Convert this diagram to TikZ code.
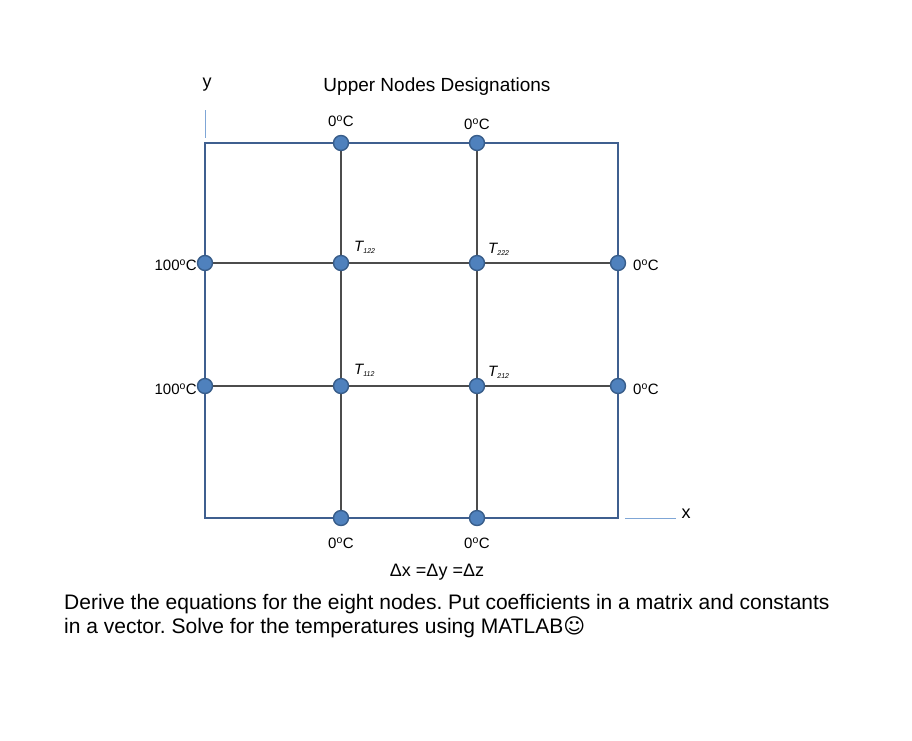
\documentclass[tikz,border=0pt]{standalone}
\usepackage{fontspec}
\setmainfont{Liberation Sans}
\newfontfamily\dejavu{DejaVu Sans}
\frenchspacing
\definecolor{bord}{HTML}{3F5F8F}
\definecolor{dotfill}{HTML}{4F81BD}
\definecolor{dotline}{HTML}{385D8A}
\definecolor{axc}{HTML}{7FA6D6}
\tikzset{dot/.style={circle,fill=dotfill,draw=dotline,line width=1.4pt,minimum size=15pt,inner sep=0pt},
lbl/.style={font=\fontsize{15}{18}\selectfont,inner sep=1pt},
tl/.style={font=\fontsize{15}{18}\selectfont\itshape,inner sep=1pt}}
\begin{document}
\begin{tikzpicture}[x=1pt,y=-1pt]
\useasboundingbox (0,0) rectangle (912,740);
\coordinate (A) at (205,143); \coordinate (B) at (618,143);
\coordinate (C) at (618,518); \coordinate (D) at (205,518);
\coordinate (t1) at (341,143); \coordinate (t2) at (477,143);
\coordinate (b1) at (341,518); \coordinate (b2) at (477,518);
\coordinate (l1) at (205,263); \coordinate (l2) at (205,386);
\coordinate (r1) at (618,263); \coordinate (r2) at (618,386);
\coordinate (n122) at (341,263); \coordinate (n222) at (477,263);
\coordinate (n112) at (341,386); \coordinate (n212) at (477,386);
\draw[black!70,line width=1.2pt] (t1)--(b1) (t2)--(b2) (l1)--(r1) (l2)--(r2);
\draw[bord,line width=2.2pt] (A)--(B)--(C)--(D)--cycle;
\foreach \n in {t1,t2,b1,b2,l1,l2,r1,r2,n122,n222,n112,n212}{\node[dot] (d\n) at (\n) {};}
\coordinate (ya) at (205,110); \coordinate (yb) at (205,138);
\draw[axc,line width=1pt] (ya)--(yb);
\coordinate (xa) at (625,518); \coordinate (xb) at (676,518);
\draw[axc,line width=1pt] (xa)--(xb);
\node[font=\fontsize{18}{21}\selectfont] (ylab) at (207,85) {y};
\node[font=\fontsize{18}{21}\selectfont] (xlab) at (686,514) {x};
\node[font=\fontsize{19}{22}\selectfont] (title) at (437,87) {Upper Nodes Designations};
\node[lbl] at (341,121) {0\textsuperscript{o}C};
\node[lbl] at (477,124) {0\textsuperscript{o}C};
\node[lbl] at (341,543) {0\textsuperscript{o}C};
\node[lbl] at (477,543) {0\textsuperscript{o}C};
\node[lbl,anchor=east] at (198,265) {100\textsuperscript{o}C};
\node[lbl,anchor=east] at (198,389) {100\textsuperscript{o}C};
\node[lbl,anchor=west] at (632,265) {0\textsuperscript{o}C};
\node[lbl,anchor=west] at (632,389) {0\textsuperscript{o}C};
\node[tl,anchor=west] at (353,247) {T\textsubscript{\scriptsize 122}};
\node[tl,anchor=west] at (487,249) {T\textsubscript{\scriptsize 222}};
\node[tl,anchor=west] at (353,370) {T\textsubscript{\scriptsize 112}};
\node[tl,anchor=west] at (487,372) {T\textsubscript{\scriptsize 212}};
\node[font=\fontsize{18}{21}\selectfont] (dl) at (437,572) {Δx =Δy =Δz};
\node[font=\fontsize{21}{24}\selectfont,anchor=north west,align=left,inner sep=0pt] (txt) at (64,594) {Derive the equations for the eight nodes. Put coefficients in a matrix and constants\\in a vector. Solve for the temperatures using MATLAB{\dejavu ☺}};
\end{tikzpicture}
\end{document}
